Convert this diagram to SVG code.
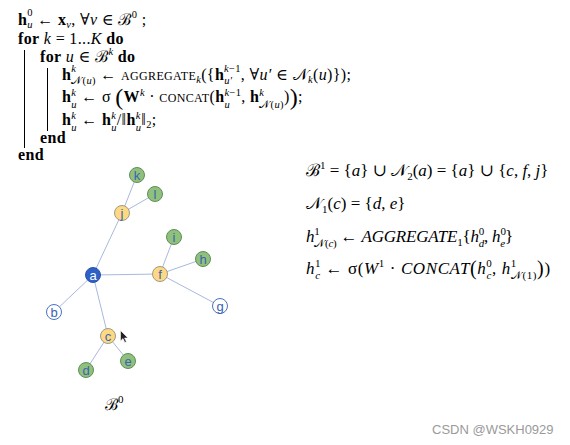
<svg xmlns="http://www.w3.org/2000/svg" width="570" height="445" viewBox="0 0 570 445">
<style>
.alg{font-family:"Liberation Serif","DejaVu Serif",serif;font-size:16px;letter-spacing:0.35px;fill:#000}
.b{font-weight:bold}
.i{font-style:italic}
.s{font-size:10.5px}
.sc{font-size:12px}
.eq{font-family:"Liberation Serif","DejaVu Serif",serif;font-size:17px;fill:#000}
.eq .s{font-size:11px}
.edge{stroke:#a9b8de;stroke-width:1;fill:none}
.lbl{font-family:"Liberation Sans","DejaVu Sans",sans-serif;font-size:13px;text-anchor:middle;fill:#3d62b3}
.green{fill:#8fc07c;stroke:#5f8e58;stroke-width:1}
.yellow{fill:#fdd983;stroke:#a09a86;stroke-width:1}
.blue{fill:#2f60c6;stroke:#2a55ad;stroke-width:1}
.white{fill:#fff;stroke:#4a72c4;stroke-width:1}
</style>
<g id="algorithm" class="alg">
<text x="18" y="24.5"><tspan class="b">h</tspan><tspan class="s" dy="-8.5">0</tspan><tspan class="s i" dx="-5.6" dy="12">u</tspan><tspan dy="-3.5"> ← </tspan><tspan class="b">x</tspan><tspan class="s i" dy="3">v</tspan><tspan dy="-3">, ∀</tspan><tspan class="i">v</tspan> ∈ ℬ<tspan class="s" dy="-7">0</tspan><tspan dy="7"> ;</tspan></text>
<text x="18" y="44"><tspan class="b">for</tspan> <tspan class="i">k</tspan> = 1...<tspan class="i">K</tspan> <tspan class="b">do</tspan></text>
<text x="40" y="62"><tspan class="b">for</tspan> <tspan class="i">u</tspan> ∈ ℬ<tspan class="s i" dy="-7">k</tspan><tspan dy="7"> </tspan><tspan class="b">do</tspan></text>
<text x="62" y="80"><tspan class="b">h</tspan><tspan class="s i" dy="-8.5">k</tspan><tspan class="s" dx="-5" dy="12">𝒩(<tspan class="i">u</tspan>)</tspan><tspan dy="-3.5"> ← </tspan><tspan class="sc">AGGREGATE</tspan><tspan class="s i" dy="3">k</tspan><tspan dy="-3">({</tspan><tspan class="b">h</tspan><tspan class="s i" dy="3.5">u′</tspan><tspan class="s" dx="-8.5" dy="-12"><tspan class="i">k</tspan>−1</tspan><tspan dy="8.5">, ∀</tspan><tspan class="i">u′</tspan> ∈ 𝒩<tspan class="s i" dy="3">k</tspan><tspan dy="-3">(</tspan><tspan class="i">u</tspan>)});</text>
<text x="62" y="102"><tspan class="b">h</tspan><tspan class="s i" dy="-6.5">k</tspan><tspan class="s i" dx="-5" dy="12">u</tspan><tspan dy="-5.5"> ← σ </tspan><tspan font-size="24" dy="3">(</tspan><tspan class="b" dy="-3">W</tspan><tspan class="s i" dy="-6.5">k</tspan><tspan dy="6.5"> · </tspan><tspan class="sc">CONCAT</tspan>(<tspan class="b">h</tspan><tspan class="s i" dy="5.5">u</tspan><tspan class="s" dx="-5.6" dy="-12"><tspan class="i">k</tspan>−1</tspan><tspan dy="6.5">, </tspan><tspan class="b">h</tspan><tspan class="s i" dy="-6.5">k</tspan><tspan class="s" dx="-5" dy="12">𝒩(<tspan class="i">u</tspan>)</tspan><tspan dy="-5.5">)</tspan><tspan font-size="24" dy="3">)</tspan><tspan dy="-3">;</tspan></text>
<text x="62" y="125"><tspan class="b">h</tspan><tspan class="s i" dy="-6">k</tspan><tspan class="s i" dx="-5" dy="12">u</tspan><tspan dy="-6"> ← </tspan><tspan class="b">h</tspan><tspan class="s i" dy="-6">k</tspan><tspan class="s i" dx="-5" dy="12">u</tspan><tspan dy="-6">/‖</tspan><tspan class="b">h</tspan><tspan class="s i" dy="-6">k</tspan><tspan class="s i" dx="-5" dy="12">u</tspan><tspan dy="-6">‖</tspan><tspan class="s" dy="3">2</tspan><tspan dy="-3">;</tspan></text>
<text x="40" y="143" class="b">end</text>
<text x="18" y="160" class="b">end</text>
<line x1="24.5" y1="50" x2="24.5" y2="148" stroke="#000" stroke-width="1"/>
<line x1="47.5" y1="68" x2="47.5" y2="131" stroke="#000" stroke-width="1"/>
</g>
<g id="equations" class="eq">
<text x="306" y="176">ℬ<tspan class="s" dy="-7">1</tspan><tspan dy="7"> = {</tspan><tspan class="i">a</tspan>} ∪ 𝒩<tspan class="s" dy="4">2</tspan><tspan dy="-4">(</tspan><tspan class="i">a</tspan>) = {<tspan class="i">a</tspan>} ∪ {<tspan class="i">c</tspan>, <tspan class="i">f</tspan>, <tspan class="i">j</tspan>}</text>
<text x="306" y="209">𝒩<tspan class="s" dy="4">1</tspan><tspan dy="-4">(</tspan><tspan class="i">c</tspan>) = {<tspan class="i">d</tspan>, <tspan class="i">e</tspan>}</text>
<text x="306" y="242" letter-spacing="-0.2"><tspan class="i">h</tspan><tspan class="s" dy="-7.5">1</tspan><tspan class="s" dx="-5.5" dy="12.5">𝒩(<tspan class="i">c</tspan>)</tspan><tspan dy="-5"> ← </tspan><tspan class="i">AGGREGATE</tspan><tspan class="s" dy="4">1</tspan><tspan dy="-4">{</tspan><tspan class="i">h</tspan><tspan class="s" dy="-7.5">0</tspan><tspan class="s i" dx="-5.5" dy="12.5">d</tspan><tspan dy="-5">, </tspan><tspan class="i">h</tspan><tspan class="s" dy="-7.5">0</tspan><tspan class="s i" dx="-5.5" dy="12.5">e</tspan><tspan dy="-5">}</tspan></text>
<text x="306" y="274" letter-spacing="0.6"><tspan class="i">h</tspan><tspan class="s" dy="-7.5">1</tspan><tspan class="s i" dx="-6" dy="12.5">c</tspan><tspan dy="-5"> ← σ(</tspan><tspan class="i">W</tspan><tspan class="s" dy="-7">1</tspan><tspan dy="7"> · </tspan><tspan class="i">CONCAT</tspan><tspan font-size="20" dy="1">(</tspan><tspan class="i" dy="-1">h</tspan><tspan class="s" dy="-7.5">0</tspan><tspan class="s i" dx="-6" dy="12.5">c</tspan><tspan dy="-5">, </tspan><tspan class="i">h</tspan><tspan class="s" dy="-7.5">1</tspan><tspan class="s" dx="-6" dy="12.5">𝒩(1)</tspan><tspan font-size="20" dy="-4">)</tspan><tspan dy="-1">)</tspan></text>
</g>
<g id="connectors">
<line class="edge" x1="137" y1="175" x2="122" y2="213"/>
<line class="edge" x1="155" y1="194" x2="122" y2="213"/>
<line class="edge" x1="122" y1="213" x2="93" y2="275"/>
<line class="edge" x1="93" y1="275" x2="160" y2="274"/>
<line class="edge" x1="174" y1="237" x2="160" y2="274"/>
<line class="edge" x1="203" y1="259" x2="160" y2="274"/>
<line class="edge" x1="160" y1="274" x2="220" y2="306"/>
<line class="edge" x1="93" y1="275" x2="54" y2="312"/>
<line class="edge" x1="93" y1="275" x2="108" y2="336"/>
<line class="edge" x1="108" y1="336" x2="86" y2="370"/>
<line class="edge" x1="108" y1="336" x2="128" y2="361"/>
</g>
<g id="node-k"><circle class="green" cx="137" cy="175" r="7.5"/><text class="lbl" x="137" y="179.5">k</text></g>
<g id="node-l"><circle class="green" cx="155" cy="194" r="7.5"/><text class="lbl" x="155" y="198.5">l</text></g>
<g id="node-j"><circle class="yellow" cx="122" cy="213" r="7.5"/><text class="lbl" x="122" y="217.5">j</text></g>
<g id="node-i"><circle class="green" cx="174" cy="237" r="7.5"/><text class="lbl" x="174" y="241.5">i</text></g>
<g id="node-h"><circle class="green" cx="203" cy="259" r="7.5"/><text class="lbl" x="203" y="263.5">h</text></g>
<g id="node-a"><circle class="blue" cx="93" cy="275" r="7.5"/><text class="lbl" x="93" y="279.5" style="fill:#fff">a</text></g>
<g id="node-f"><circle class="yellow" cx="160" cy="274" r="7.5"/><text class="lbl" x="160" y="278.5">f</text></g>
<g id="node-g"><circle class="white" cx="220" cy="306" r="7.5"/><text class="lbl" x="220" y="310.5">g</text></g>
<g id="node-b"><circle class="white" cx="54" cy="312" r="7.5"/><text class="lbl" x="54" y="316.5">b</text></g>
<g id="node-c"><circle class="yellow" cx="108" cy="336" r="7.5"/><text class="lbl" x="108" y="340.5">c</text></g>
<g id="node-e"><circle class="green" cx="128" cy="361" r="7.5"/><text class="lbl" x="128" y="365.5">e</text></g>
<g id="node-d"><circle class="green" cx="86" cy="370" r="7.5"/><text class="lbl" x="86" y="374.5">d</text></g>
<path d="M120.5 330.5 L120.5 341 L123 338.6 L124.8 342.5 L126.4 341.8 L124.6 338 L128 338 Z" fill="#222" stroke="#fff" stroke-width="0.6"/>
<text x="105" y="410" font-family="Liberation Serif, DejaVu Serif, serif" font-size="16">ℬ<tspan font-size="11" dy="-7">0</tspan></text>
<text x="432" y="434" font-family="Liberation Sans, Arial, sans-serif" font-size="13" fill="#9a9a9a">CSDN @WSKH0929</text>
</svg>
